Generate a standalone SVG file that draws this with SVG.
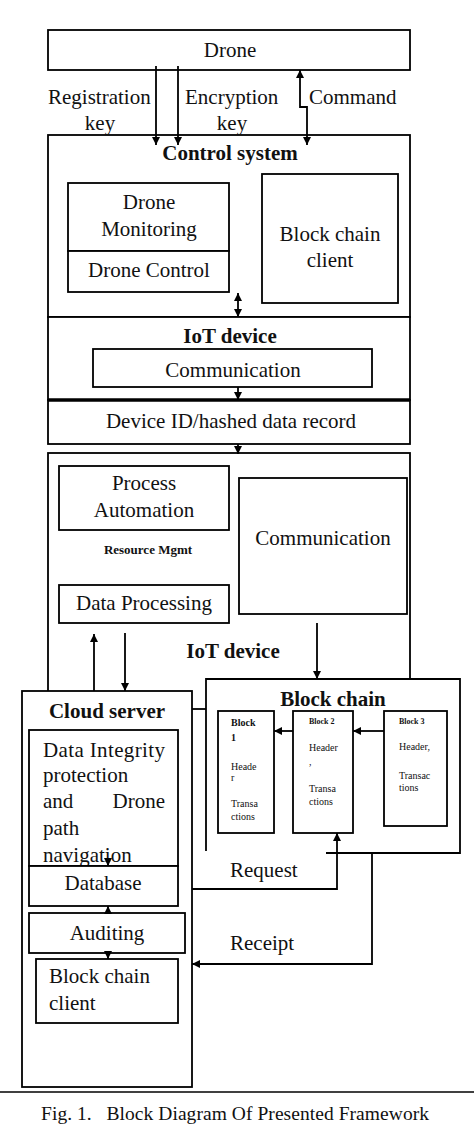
<svg xmlns="http://www.w3.org/2000/svg" width="474" height="1126" viewBox="0 0 474 1126">
<style>
.box{fill:#fff;stroke:#000;stroke-width:1.8}
.ln{fill:none;stroke:#000;stroke-width:1.8}
.t{font-family:"Liberation Serif","Times New Roman",serif;font-size:21px;fill:#111}
.b{font-weight:bold}
.c{text-anchor:middle}
.s{font-size:10px}
.xs{font-size:8px}
</style>
<defs>
<marker id="ah" viewBox="0 0 8 8" refX="8" refY="4" markerWidth="8" markerHeight="8" markerUnits="userSpaceOnUse" orient="auto-start-reverse">
<path d="M0,0 L8,4 L0,8 z" fill="#000"/>
</marker>
</defs>
<rect width="474" height="1126" fill="#fff"/>

<g id="drone">
<rect class="box" x="48" y="30" width="362" height="40"/>
<text class="t c" x="230" y="57">Drone</text>
</g>

<g id="control-system">
<rect class="box" x="48" y="135" width="362" height="182"/>
<text class="t b c" x="230" y="160">Control system</text>
</g>
<g id="drone-monitoring">
<rect class="box" x="68" y="183" width="161" height="68"/>
<text class="t c" x="149" y="209">Drone</text>
<text class="t c" x="149" y="236">Monitoring</text>
</g>
<g id="drone-control">
<rect class="box" x="68" y="251" width="161" height="41"/>
<text class="t c" x="149" y="277">Drone Control</text>
</g>
<g id="blockchain-client-top">
<rect class="box" x="262" y="174" width="136" height="129"/>
<text class="t c" x="330" y="241">Block chain</text>
<text class="t c" x="330" y="267">client</text>
</g>

<g id="iot-device-1">
<rect class="box" x="48" y="317" width="362" height="83"/>
<text class="t b c" x="230" y="343">IoT device</text>
</g>
<g id="communication-1">
<rect class="box" x="93" y="349" width="279" height="38"/>
<text class="t c" x="233" y="377">Communication</text>
</g>

<g id="device-id">
<rect class="box" x="48" y="400" width="362" height="44"/>
<line x1="48" y1="400" x2="410" y2="400" stroke="#000" stroke-width="3.5"/>
<text class="t c" x="231" y="428">Device ID/hashed data record</text>
</g>

<g id="iot-device-2">
<rect class="box" x="48" y="453" width="362" height="256"/>
<text class="t b c" x="233" y="658">IoT device</text>
<text class="t b c" x="148" y="554" style="font-size:13px">Resource Mgmt</text>
</g>
<g id="process-automation">
<rect class="box" x="59" y="466" width="170" height="64"/>
<text class="t c" x="144" y="490">Process</text>
<text class="t c" x="144" y="517">Automation</text>
</g>
<g id="communication-2">
<rect class="box" x="239" y="478" width="168" height="136"/>
<text class="t c" x="323" y="545">Communication</text>
</g>
<g id="data-processing">
<rect class="box" x="59" y="585" width="170" height="38"/>
<text class="t c" x="144" y="610">Data Processing</text>
</g>

<g id="blockchain">
<path class="box" d="M206,851 V679 H460 V853 H326"/>
<text class="t b c" x="333" y="706">Block chain</text>
</g>
<g id="block-1">
<rect class="box" x="218" y="711" width="56" height="122"/>
<text class="t s b" x="231" y="726">Block</text>
<text class="t s b" x="231" y="741">1</text>
<text class="t s" x="231" y="770">Heade</text>
<text class="t s" x="231" y="781">r</text>
<text class="t s" x="231" y="807">Transa</text>
<text class="t s" x="231" y="820">ctions</text>
</g>
<g id="block-2">
<rect class="box" x="293" y="711" width="60" height="122"/>
<text class="t xs b" x="309" y="724">Block 2</text>
<text class="t s" x="309" y="751">Header</text>
<text class="t s" x="309" y="765">,</text>
<text class="t s" x="309" y="792">Transa</text>
<text class="t s" x="309" y="805">ctions</text>
</g>
<g id="block-3">
<rect class="box" x="384" y="711" width="63" height="115"/>
<text class="t xs b" x="399" y="724">Block 3</text>
<text class="t s" x="399" y="750">Header,</text>
<text class="t s" x="399" y="779">Transac</text>
<text class="t s" x="399" y="791">tions</text>
</g>

<g id="cloud-server">
<rect class="box" x="22" y="691" width="170" height="396"/>
<text class="t b c" x="107" y="718">Cloud server</text>
</g>
<g id="data-integrity">
<rect class="box" x="29" y="730" width="149" height="136"/>
<text class="t" x="43" y="757" textLength="122" lengthAdjust="spacing">Data Integrity</text>
<text class="t" x="43" y="782">protection</text>
<text class="t" x="43" y="808">and</text>
<text class="t" x="165" y="808" text-anchor="end">Drone</text>
<text class="t" x="43" y="835">path</text>
<text class="t" x="43" y="862">navigation</text>
</g>
<g id="database">
<rect class="box" x="29" y="866" width="149" height="40"/>
<text class="t c" x="103" y="890">Database</text>
</g>
<g id="auditing">
<rect class="box" x="29" y="913" width="156" height="40"/>
<text class="t c" x="107" y="940">Auditing</text>
</g>
<g id="blockchain-client-cloud">
<rect class="box" x="36" y="959" width="142" height="64"/>
<text class="t" x="49" y="983">Block chain</text>
<text class="t" x="49" y="1010">client</text>
</g>

<g id="connectors">
<path class="ln" d="M156,66 V145" marker-end="url(#ah)"/>
<path class="ln" d="M178,66 V145" marker-end="url(#ah)"/>
<path class="ln" d="M300,70 V107 H307 V145" marker-start="url(#ah)" marker-end="url(#ah)"/>
<path class="ln" d="M238,293 V317" marker-start="url(#ah)" marker-end="url(#ah)"/>
<path class="ln" d="M238,387 V400" marker-end="url(#ah)"/>
<path class="ln" d="M238,444 V454" marker-end="url(#ah)"/>
<path class="ln" d="M94,691 V634" marker-end="url(#ah)"/>
<path class="ln" d="M125,633 V691" marker-end="url(#ah)"/>
<path class="ln" d="M317,623 V679" marker-end="url(#ah)"/>
<path class="ln" d="M293,731 H274" marker-end="url(#ah)"/>
<path class="ln" d="M384,731 H353" marker-end="url(#ah)"/>
<path class="ln" d="M192,889 H337 V833" marker-end="url(#ah)"/>
<path class="ln" d="M372,853 V964 H192" marker-end="url(#ah)"/>
<path class="ln" d="M108,858 V866" marker-end="url(#ah)"/>
<path class="ln" d="M108,913 V906" marker-end="url(#ah)"/>
<path class="ln" d="M108,953 V959" marker-end="url(#ah)"/>
<text class="t" x="230" y="877">Request</text>
<text class="t" x="230" y="950">Receipt</text>
<text class="t" x="48" y="104">Registration</text>
<text class="t c" x="100" y="130">key</text>
<text class="t" x="185" y="104">Encryption</text>
<text class="t c" x="232" y="130">key</text>
<text class="t" x="309" y="104">Command</text>
</g>

<g id="caption">
<line x1="0" y1="1092" x2="474" y2="1092" stroke="#000" stroke-width="1.5"/>
<text class="t" x="41" y="1120" style="font-size:19.5px" textLength="388" lengthAdjust="spacing" xml:space="preserve">Fig. 1.   Block Diagram Of Presented Framework</text>
</g>
</svg>
